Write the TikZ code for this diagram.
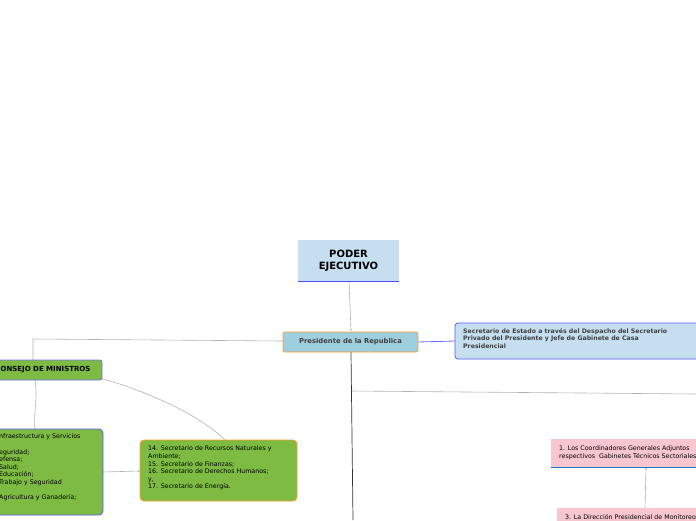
\documentclass[tikz,border=0pt]{standalone}
\usepackage{fontspec}
\setmainfont{DejaVu Sans}
\begin{document}
\begin{tikzpicture}[x=1pt,y=-1pt,
  lbl/.style={font=\fontsize{6.3}{7.6}\selectfont,align=left,anchor=north west,inner sep=0},
  conn/.style={draw=gray!60,line width=0.6pt},
  tip/.style={-{Latex[length=2pt,width=2pt]}}]
\useasboundingbox (0,0) rectangle (696,520);
\clip (0,0) rectangle (696,520);
\usetikzlibrary{arrows.meta}
\definecolor{pblue}{HTML}{C5DFF0}
\definecolor{pres}{HTML}{9ECFDF}
\definecolor{gr}{HTML}{7DBB42}
\definecolor{pk}{HTML}{F7C6CF}
% connectors
\coordinate (c1) at (33,339);
\draw[conn,tip] (349,281) -- (351,331);
\draw[draw=blue!60,line width=0.8pt] (418,342) -- (455,341);
\draw[conn] (283,341) -- (c1) -- (33,360);
\draw[conn] (35,380) .. controls (38,400) and (33,415) .. (35,430);
\draw[conn] (100,378) .. controls (160,395) and (205,420) .. (225,440);
\draw[conn,tip] (103,472) -- (140,471);
\draw[draw=black!80,line width=0.7pt] (351,352) -- (353,520);
\draw[conn] (352,391) -- (696,394);
\draw[conn,tip] (645,508) -- (646,467);
% boxes
\fill[pblue] (298,240) rectangle (399,281);
\draw[blue!70,line width=0.8pt] (298,281) -- (399,281);
\node[font=\bfseries\fontsize{10}{11.5}\selectfont,align=center] (pe) at (348.5,261) {PODER\\EJECUTIVO};
\draw[orange!80,fill=pres,rounded corners=2pt,line width=0.8pt] (283,332) rectangle (418,352);
\node[font=\bfseries\fontsize{6.8}{8}\selectfont,text=black!75] (pr) at (350.5,342) {Presidente de la Republica};
\draw[blue!65,fill=pblue,rounded corners=3pt,line width=0.8pt] (455,323) rectangle (705,359);
\node[lbl,font=\bfseries\fontsize{6.2}{7.8}\selectfont,text=black!75] (se) at (463,328) {Secretario de Estado a través del Despacho del Secretario\\Privado del Presidente y Jefe de Gabinete de Casa\\Presidencial};
\draw[orange!70,fill=pk,line width=0.6pt] (696,380) rectangle (720,410);
\draw[blue!55,fill=gr,rounded corners=2pt,line width=0.8pt] (-60,360) rectangle (102,380);
\node[font=\bfseries\fontsize{7}{8}\selectfont,anchor=east] (cm) at (94,370) {CONSEJO DE MINISTROS};
\draw[blue!65,fill=gr,rounded corners=4pt,line width=0.8pt] (-60,429) rectangle (103,515);
\node[lbl] (gl) at (-1,434) {nfraestructura y Servicios\\[7.6pt]eguridad;\\efensa;\\Salud;\\Educación;\\Trabajo y Seguridad\\[7.6pt]Agricultura y Ganadería;};
\draw[orange!80,fill=gr,rounded corners=4pt,line width=0.8pt] (140,440) rectangle (297,501);
\node[lbl] (g2) at (148,446) {14. Secretario de Recursos Naturales y\\Ambiente;\\15. Secretario de Finanzas;\\16. Secretario de Derechos Humanos;\\y,\\17. Secretario de Energía.};
\fill[pk] (551,439) rectangle (700,467);
\draw[cyan!60!blue,line width=0.6pt] (551,467) -- (700,467);
\node[lbl] (k1) at (559,446) {1. Los Coordinadores Generales Adjuntos\\respectivos\ \ Gabinetes Técnicos Sectoriales};
\fill[pk] (557,508) rectangle (700,530);
\node[lbl] (k3) at (565,514) {3. La Dirección Presidencial de Monitoreo};
\end{tikzpicture}
\end{document}
